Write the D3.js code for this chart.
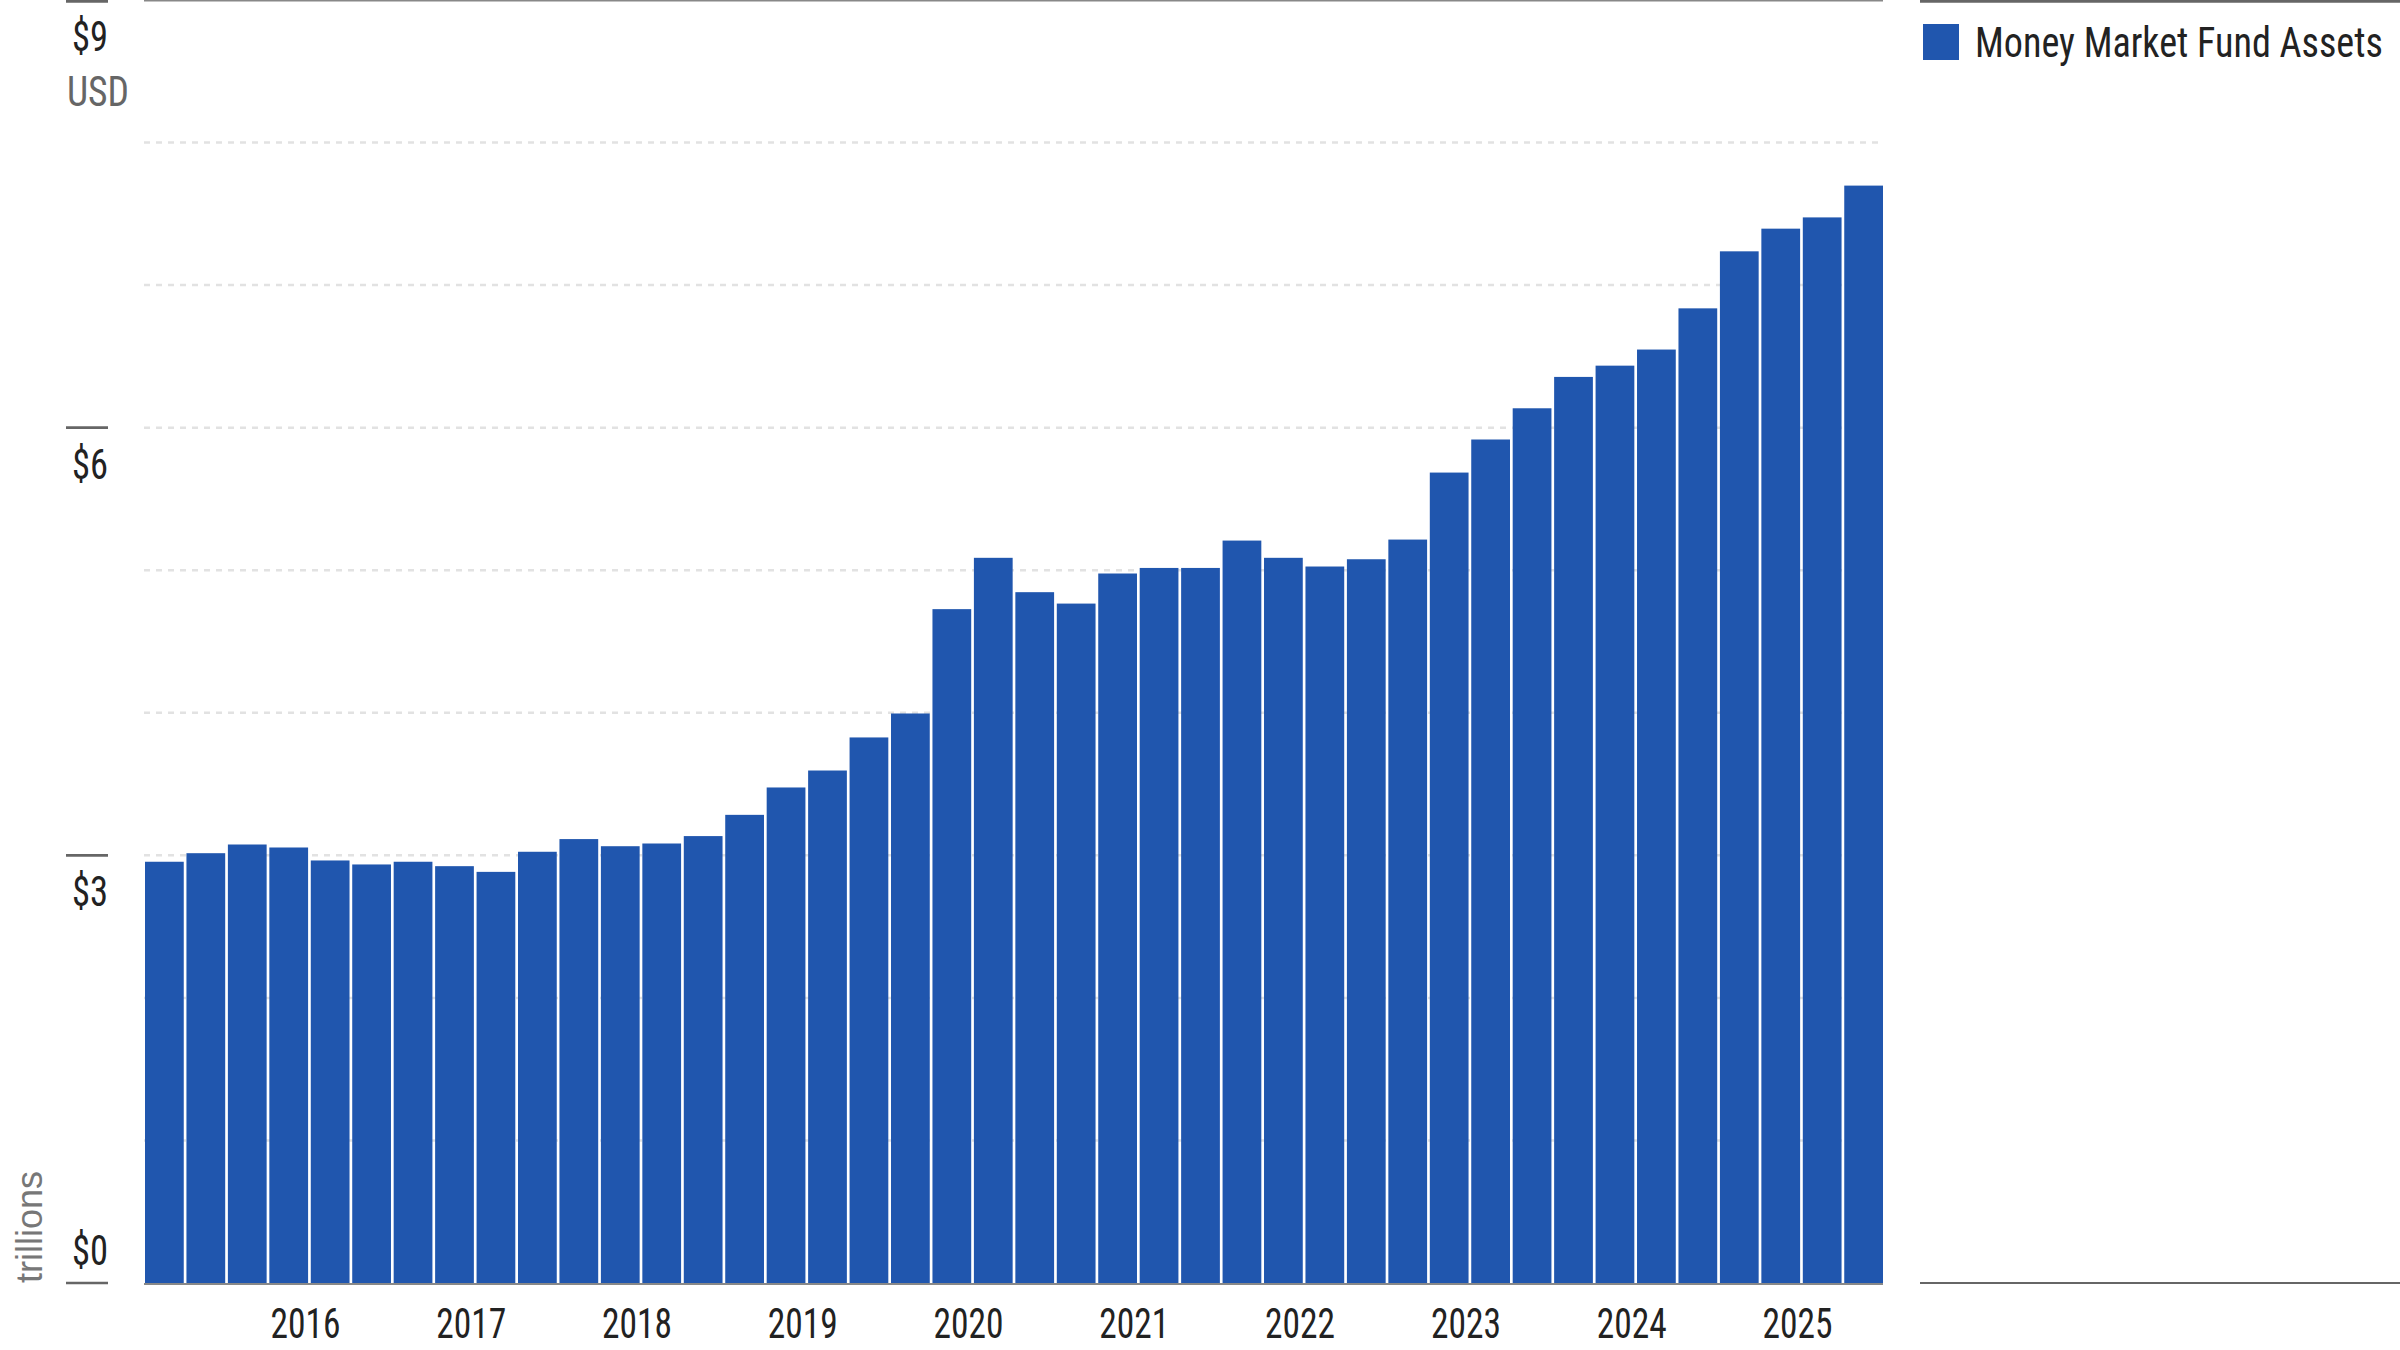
<!DOCTYPE html>
<html lang="en">
<head>
    <meta charset="UTF-8">
    <title>Money Market Fund Assets</title>
    <style>
        body { margin: 0; background: #fff; }
        svg { display: block; }
        .cond { font-family: "Roboto Condensed", Roboto, "Liberation Sans", sans-serif; }
    </style>
</head>
<body>
    <svg id="chart"></svg>
    <script src="https://d3js.org/d3.v7.min.js"></script>
    <script>
    // quarterly money market fund assets, trillions USD
    const quarters = [
        "2015 Q1", "2015 Q2", "2015 Q3", "2015 Q4",
        "2016 Q1", "2016 Q2", "2016 Q3", "2016 Q4",
        "2017 Q1", "2017 Q2", "2017 Q3", "2017 Q4",
        "2018 Q1", "2018 Q2", "2018 Q3", "2018 Q4",
        "2019 Q1", "2019 Q2", "2019 Q3", "2019 Q4",
        "2020 Q1", "2020 Q2", "2020 Q3", "2020 Q4",
        "2021 Q1", "2021 Q2", "2021 Q3", "2021 Q4",
        "2022 Q1", "2022 Q2", "2022 Q3", "2022 Q4",
        "2023 Q1", "2023 Q2", "2023 Q3", "2023 Q4",
        "2024 Q1", "2024 Q2", "2024 Q3", "2024 Q4",
        "2025 Q1", "2025 Q2"
    ];
    const asset_values = [
        2.955, 3.015, 3.076, 3.055,
        2.964, 2.936, 2.955, 2.924,
        2.884, 3.025, 3.114, 3.064,
        3.083, 3.135, 3.284, 3.476,
        3.595, 3.827, 3.995, 4.727,
        5.087, 4.846, 4.766, 4.977,
        5.016, 5.016, 5.208, 5.087,
        5.026, 5.077, 5.215, 5.685,
        5.917, 6.136, 6.356, 6.435,
        6.548, 6.837, 7.237, 7.396,
        7.475, 7.698
    ];
    const y_ticks = [0, 3, 6, 9];
    const grid_values = [1, 2, 3, 4, 5, 6, 7, 8];
    const year_ticks = ["2016", "2017", "2018", "2019", "2020", "2021", "2022", "2023", "2024", "2025"];
    const series_name = "Money Market Fund Assets";

    const width = 2400, height = 1350;
    const plot = {left: 144, right: 1883, top: 0, bottom: 1283};
    const bar_color = "#2056ae";
    const font_size = 42;

    const svg = d3.select("#chart")
        .attr("width", width)
        .attr("height", height);

    const x_scale = d3.scaleBand()
        .domain(quarters)
        .range([plot.left + 1, plot.right])
        .paddingInner(0.065)
        .paddingOuter(0);

    const y_scale = d3.scaleLinear()
        .domain([0, 9])
        .range([plot.bottom, plot.top]);

    // the reference font is a condensed face; squeeze the text to its widths
    function squeeze(sel, len) {
        sel.attr("textLength", len).attr("lengthAdjust", "spacingAndGlyphs");
    }

    // dashed grid
    svg.append("g")
        .selectAll("line")
        .data(grid_values)
        .join("line")
            .attr("x1", plot.left)
            .attr("x2", plot.right - 4)
            .attr("y1", d => y_scale(d))
            .attr("y2", d => y_scale(d))
            .attr("stroke", "#e2e2e2")
            .attr("stroke-width", 2.5)
            .attr("stroke-dasharray", "6,6");

    // bars
    svg.append("g")
        .selectAll("rect")
        .data(asset_values)
        .join("rect")
            .attr("x", (d, i) => x_scale(quarters[i]))
            .attr("width", x_scale.bandwidth())
            .attr("y", d => y_scale(d))
            .attr("height", d => y_scale(0) - y_scale(d))
            .attr("fill", bar_color);

    // top and bottom frame lines
    svg.append("line")
        .attr("x1", plot.left).attr("x2", plot.right)
        .attr("y1", 0.75).attr("y2", 0.75)
        .attr("stroke", "#888").attr("stroke-width", 1.5);
    svg.append("line")
        .attr("x1", plot.left).attr("x2", plot.right)
        .attr("y1", plot.bottom + 1).attr("y2", plot.bottom + 1)
        .attr("stroke", "#888").attr("stroke-width", 2);

    // y axis: short ticks with labels under them ($0 sits above its tick)
    const y_axis = svg.append("g").attr("class", "cond");
    y_axis.selectAll("line")
        .data(y_ticks)
        .join("line")
            .attr("x1", 66).attr("x2", 108)
            .attr("y1", d => d === 9 ? 1.3 : y_scale(d))
            .attr("y2", d => d === 9 ? 1.3 : y_scale(d))
            .attr("stroke", "#666")
            .attr("stroke-width", 2.7);
    y_axis.selectAll("text")
        .data(y_ticks)
        .join("text")
            .attr("x", 108)
            .attr("y", d => d === 0 ? y_scale(d) - 18 : y_scale(d) + 51)
            .attr("text-anchor", "end")
            .attr("font-size", font_size)
            .attr("fill", "#222")
            .text(d => "$" + d)
            .call(squeeze, 36);

    svg.append("text")
        .attr("class", "cond")
        .attr("x", 67)
        .attr("y", 106)
        .attr("font-size", font_size)
        .attr("fill", "#666")
        .text("USD")
        .call(squeeze, 62);

    svg.append("text")
        .attr("transform", "translate(42," + 1283 + ") rotate(-90)")
        .attr("font-family", "'Liberation Sans', Arial, sans-serif")
        .attr("font-size", 36)
        .attr("fill", "#777")
        .text("trillions");

    // x axis: year labels at the start of each year
    const step = x_scale.step();
    svg.append("g")
        .attr("class", "cond")
        .selectAll("text")
        .data(year_ticks)
        .join("text")
            .attr("x", d => x_scale(d + " Q1") - (step - x_scale.bandwidth()) / 2 - 39)
            .attr("y", 1338)
            .attr("font-size", font_size)
            .attr("fill", "#222")
            .text(d => d)
            .call(squeeze, 70);

    // legend
    const legend = svg.append("g");
    legend.append("line")
        .attr("x1", 1920).attr("x2", width)
        .attr("y1", 1.3).attr("y2", 1.3)
        .attr("stroke", "#666").attr("stroke-width", 2.7);
    legend.append("line")
        .attr("x1", 1920).attr("x2", width)
        .attr("y1", plot.bottom).attr("y2", plot.bottom)
        .attr("stroke", "#666").attr("stroke-width", 2);
    legend.append("rect")
        .attr("x", 1923).attr("y", 24)
        .attr("width", 36).attr("height", 36)
        .attr("fill", bar_color);

    // scale the legend text itself so its box really ends inside the page
    const legend_text = legend.append("text")
        .attr("class", "cond")
        .attr("font-size", font_size)
        .attr("fill", "#222")
        .text(series_name);
    const natural_len = legend_text.node().getComputedTextLength();
    legend_text.attr("transform",
        "translate(1975,57) scale(" + (408 / natural_len) + ",1)");
    </script>
</body>
</html>
